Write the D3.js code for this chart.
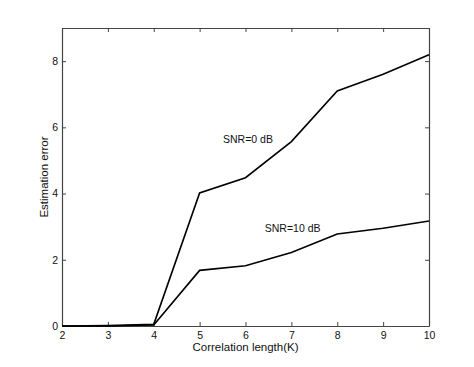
<!DOCTYPE html>
<html><head><meta charset="utf-8">
<script src="https://cdn.jsdelivr.net/npm/d3@7"></script>
<style>body{margin:0;background:#fff;}svg{display:block;}</style>
</head><body>
<script>
const kValues = [2, 3, 4, 5, 6, 7, 8, 9, 10];
const snr0 = [0.0, 0.01, 0.05, 4.02, 4.48, 5.57, 7.1, 7.6, 8.19];
const snr10 = [0.0, 0.0, 0.03, 1.68, 1.82, 2.22, 2.78, 2.95, 3.17];
const xTicks = [2, 3, 4, 5, 6, 7, 8, 9, 10];
const yTicks = [0, 2, 4, 6, 8];
const seriesLabels = ["SNR=0 dB", "SNR=10 dB"];

const W = 474, H = 367;
const m = {left: 62, right: 45, top: 28, bottom: 41};
const svg = d3.select("body").append("svg").attr("width", W).attr("height", H);
const x = d3.scaleLinear().domain([2, 10]).range([m.left, W - m.right]);
const y = d3.scaleLinear().domain([0, 9]).range([H - m.bottom, m.top]);
const font = "Liberation Sans, Arial, sans-serif";
const frameColor = "#444";

// axes
const gx = svg.append("g").attr("transform", `translate(0,${y(0)})`)
  .call(d3.axisBottom(x).tickValues(xTicks).tickFormat(d3.format("d")).tickSizeInner(-4).tickSizeOuter(0).tickPadding(6));
const gxt = svg.append("g").attr("transform", `translate(0,${y(9)})`)
  .call(d3.axisTop(x).tickValues(xTicks).tickFormat("").tickSizeInner(-4).tickSizeOuter(0));
const gy = svg.append("g").attr("transform", `translate(${x(2)},0)`)
  .call(d3.axisLeft(y).tickValues(yTicks).tickFormat(d3.format("d")).tickSizeInner(-4).tickSizeOuter(0).tickPadding(4));
const gyr = svg.append("g").attr("transform", `translate(${x(10)},0)`)
  .call(d3.axisRight(y).tickValues(yTicks).tickFormat("").tickSizeInner(-4).tickSizeOuter(0));
[gx, gxt, gy, gyr].forEach(g => {
  g.select(".domain").attr("stroke", frameColor).attr("stroke-width", 1.2);
  g.selectAll(".tick line").attr("stroke", frameColor);
  g.selectAll("text").attr("font-family", font).attr("font-size", 10.5).attr("fill", "#111");
});

// lines
const line = d3.line().x((d, i) => x(kValues[i])).y(d => y(d));
[snr0, snr10].forEach(s => {
  svg.append("path").datum(s).attr("d", line)
    .attr("fill", "none").attr("stroke", "#000").attr("stroke-width", 1.6);
});

// annotations
svg.append("text").attr("x", x(5.51)).attr("y", y(5.52)).text(seriesLabels[0])
  .attr("font-family", font).attr("font-size", 10.5).attr("fill", "#111");
svg.append("text").attr("x", x(6.42)).attr("y", y(2.83)).text(seriesLabels[1])
  .attr("font-family", font).attr("font-size", 10.5).attr("fill", "#111");

// axis labels
svg.append("text").attr("x", (x(2) + x(10)) / 2).attr("y", 351).attr("text-anchor", "middle")
  .text("Correlation length(K)").attr("font-family", font).attr("font-size", 11.5).attr("fill", "#111");
svg.append("text").attr("transform", `translate(48,${(y(0) + y(9)) / 2}) rotate(-90)`).attr("text-anchor", "middle")
  .text("Estimation error").attr("font-family", font).attr("font-size", 11.5).attr("fill", "#111");
</script>
</body></html>
